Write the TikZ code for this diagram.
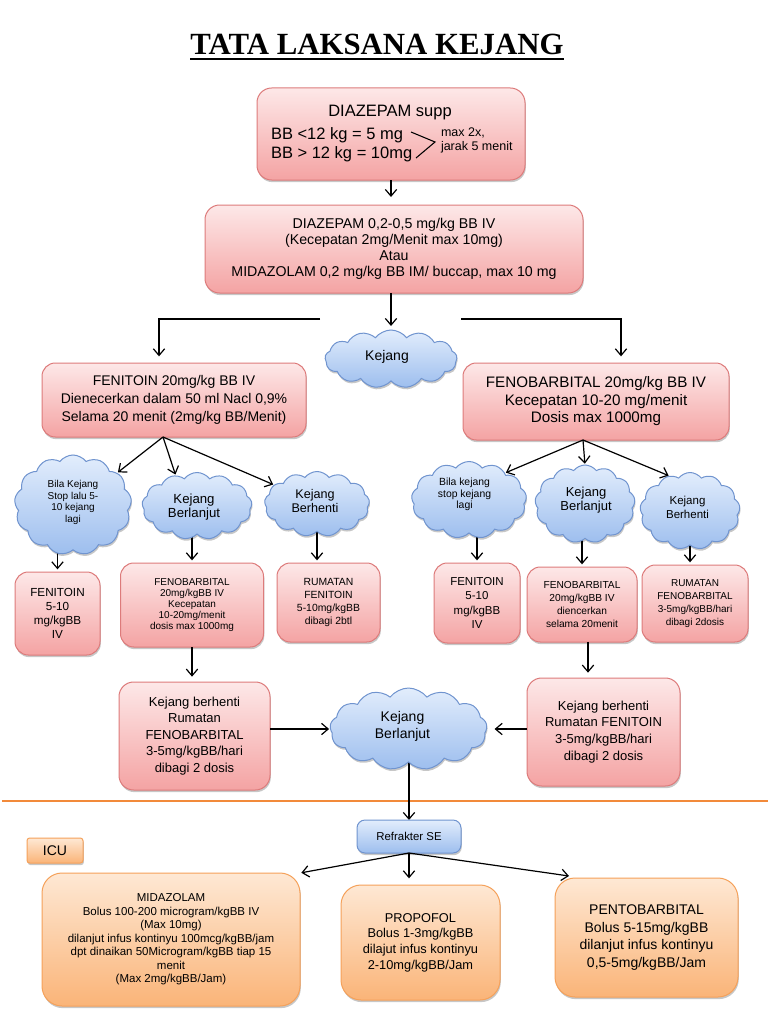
\documentclass[tikz,border=0pt]{standalone}
\usepackage{fontspec}
\setmainfont{Liberation Sans}
\newfontfamily\titlefont{Liberation Serif}
\usetikzlibrary{shapes.symbols,arrows.meta,shadows}
\newdimen\pxu \pxu=0.75pt
\newcommand\fsz[2]{\fontsize{#1\pxu}{#2\pxu}\selectfont}
\pgfdeclarelayer{bg}
\pgfsetlayers{bg,main}
\definecolor{redtop}{HTML}{FDE8E8}
\definecolor{redbot}{HTML}{F4A3A3}
\definecolor{redline}{HTML}{DD7B7B}
\definecolor{bluetop}{HTML}{E2EDFC}
\definecolor{bluebot}{HTML}{9DBEEE}
\definecolor{blueline}{HTML}{7094CF}
\definecolor{ortop}{HTML}{FEE8D4}
\definecolor{orbot}{HTML}{FAB478}
\definecolor{orline}{HTML}{F5A15A}
\definecolor{sepline}{HTML}{F28A3A}
\begin{document}
\begin{tikzpicture}[x=0.75pt,y=-0.75pt,
  every node/.style={inner sep=0pt,outer sep=0pt},
  sz/.style 2 args={minimum width=#1*0.75pt,minimum height=#2*0.75pt},
  shadowed/.style={drop shadow={shadow xshift=0.6pt,shadow yshift=-1.6pt,opacity=0.22,fill=black}},
  redbox/.style={draw=redline,line width=0.75pt,rounded corners=10pt,top color=redtop,bottom color=redbot,shadowed,align=center},
  bluebox/.style={draw=blueline,line width=0.75pt,rounded corners=6pt,top color=bluetop,bottom color=bluebot,shadowed,align=center},
  orbox/.style={draw=orline,line width=0.75pt,rounded corners=15pt,top color=ortop,bottom color=orbot,shadowed,align=center},
  cloudy/.style={cloud,cloud puffs=13,cloud puff arc=105,cloud ignores aspect,draw=blueline,line width=0.75pt,top color=bluetop,bottom color=bluebot,shadowed},
  lbl/.style={align=center},
  arr/.style={line width=0.9pt,-{Straight Barb[length=5pt,width=8.5pt,line width=0.9pt]},shorten >=2pt},
]
\begin{pgfonlayer}{bg}
\fill[white] (0,0) rectangle (768,1024);
\end{pgfonlayer}
\useasboundingbox (0,0) rectangle (768,1024);

% title
\node[anchor=base,font=\titlefont\bfseries\fsz{30.8}{34}] (title) at (377,55) {TATA LAKSANA KEJANG};
\draw[line width=1.5pt] ([yshift=-3pt]title.base west) -- ([yshift=-3pt]title.base east);

% box 1
\node[redbox,sz={268}{92},rounded corners=11pt] (b1) at (391,134) {};
\node[anchor=base,font=\fsz{16.5}{18}] (b1t) at (390,117) {DIAZEPAM supp};
\node[anchor=base west,font=\fsz{16.5}{18}] (b1a) at (271,139) {BB <12 kg = 5 mg};
\node[anchor=base west,font=\fsz{16.5}{18}] (b1b) at (271,158) {BB > 12 kg = 10mg};
\node[anchor=base west,font=\fsz{12.5}{13}] (b1c) at (441,137) {max 2x,};
\node[anchor=base west,font=\fsz{12.5}{13}] (b1d) at (441,150) {jarak 5 menit};
\coordinate (br1) at (411,132);
\coordinate (br2) at (435,142);
\coordinate (br3) at (416,158);
\draw[line width=0.8pt] (br1) -- (br2) -- (br3);

% box 2
\node[redbox,sz={378}{88},rounded corners=11pt,font=\fsz{14.2}{16}] (b2) at (394,249)
  {DIAZEPAM 0,2-0,5 mg/kg BB IV\\(Kecepatan 2mg/Menit max 10mg)\\Atau\\MIDAZOLAM 0,2 mg/kg BB IM/ buccap, max 10 mg};

% Kejang cloud
\node[cloudy,sz={132}{58}] (kj) at (391,359) {};
\node[font=\fsz{14}{16}] (kjt) at (387,357) {Kejang};

% second level boxes
\node[redbox,sz={264}{74},font=\fsz{14}{18}] (fen) at (174,400)
  {FENITOIN 20mg/kg BB IV\\Dienecerkan dalam 50 ml Nacl 0,9\%\\Selama 20 menit (2mg/kg BB/Menit)};
\node[redbox,sz={266}{77},font=\fsz{15.2}{17.5}] (fenob) at (596,401.5)
  {FENOBARBITAL 20mg/kg BB IV\\Kecepatan 10-20 mg/menit\\Dosis max 1000mg};

% left clouds
\node[cloudy,sz={117}{100}] (L1) at (73,505) {};
\node[lbl,font=\fsz{10}{11.7}] (L1t) at (73,502.5) {Bila Kejang\\Stop lalu 5-\\10 kejang\\lagi};
\node[cloudy,sz={110}{67}] (L2) at (197,506) {};
\node[lbl,font=\fsz{13.2}{14}] (L2t) at (194,507) {Kejang\\Berlanjut};
\node[cloudy,sz={105}{65}] (L3) at (317,504) {};
\node[lbl,font=\fsz{12.6}{14}] (L3t) at (315,501) {Kejang\\Berhenti};

% right clouds
\node[cloudy,sz={115}{77}] (R1) at (469,500) {};
\node[lbl,font=\fsz{10.4}{11.5}] (R1t) at (464.5,494.5) {Bila kejang\\stop kejang\\lagi};
\node[cloudy,sz={100}{78}] (R2) at (585,504) {};
\node[lbl,font=\fsz{13}{14}] (R2t) at (586,500) {Kejang\\Berlanjut};
\node[cloudy,sz={100}{77}] (R3) at (690,511) {};
\node[lbl,font=\fsz{11.5}{14}] (R3t) at (687.5,507) {Kejang\\Berhenti};

% third level boxes
\node[redbox,sz={85}{83},font=\fsz{11.7}{14}] (A1) at (57.5,613.5) {FENITOIN\\5-10\\mg/kgBB\\IV};
\node[redbox,sz={143}{84},font=\fsz{10}{11.2}] (A2) at (192,605) {FENOBARBITAL\\20mg/kgBB IV\\Kecepatan\\10-20mg/menit\\dosis max 1000mg};
\node[redbox,sz={103}{79},font=\fsz{10.4}{13.3}] (A3) at (328.5,602.5) {RUMATAN\\FENITOIN\\5-10mg/kgBB\\dibagi 2btl};
\node[redbox,sz={86}{80},font=\fsz{11.5}{14.3}] (B1) at (477,603) {FENITOIN\\5-10\\mg/kgBB\\IV};
\node[redbox,sz={110}{75},font=\fsz{10.2}{13}] (B2) at (582,604.5) {FENOBARBITAL\\20mg/kgBB IV\\diencerkan\\selama 20menit};
\node[redbox,sz={106}{77},font=\fsz{10}{12.8}] (B3) at (695,603.5) {RUMATAN\\FENOBARBITAL\\3-5mg/kgBB/hari\\dibagi 2dosis};

% fourth level
\node[redbox,sz={151}{108},rounded corners=11pt,font=\fsz{13}{16.5}] (C1) at (194.5,736) {Kejang berhenti\\Rumatan\\FENOBARBITAL\\3-5mg/kgBB/hari\\dibagi 2 dosis};
\node[cloudy,sz={157}{82}] (kb) at (408.5,729) {};
\node[lbl,font=\fsz{14}{17}] (kbt) at (402.5,726.5) {Kejang\\Berlanjut};
\node[redbox,sz={153}{108},rounded corners=11pt,font=\fsz{13}{16.8}] (C2) at (603.5,732) {Kejang berhenti\\Rumatan FENITOIN\\3-5mg/kgBB/hari\\dibagi 2 dosis};

% ICU part
\node[bluebox,sz={104}{33},font=\fsz{11.4}{13}] (R) at (409,836.5) {Refrakter SE};
\node[orbox,sz={56}{25},rounded corners=2pt,font=\fsz{14}{16}] (icu) at (55,850.5) {ICU};
\node[orbox,sz={258}{133},font=\fsz{11.5}{13.5}] (D1) at (171,939.5)
  {MIDAZOLAM\\Bolus 100-200 microgram/kgBB IV\\(Max 10mg)\\dilanjut infus kontinyu 100mcg/kgBB/jam\\dpt dinaikan 50Microgram/kgBB tiap 15\\menit\\(Max 2mg/kgBB/Jam)};
\node[orbox,sz={159}{115},font=\fsz{12.8}{15.7}] (D2) at (420.5,942.5)
  {PROPOFOL\\Bolus 1-3mg/kgBB\\dilajut infus kontinyu\\2-10mg/kgBB/Jam};
\node[orbox,sz={183}{119},font=\fsz{14}{17.7}] (D3) at (646.5,937.5)
  {PENTOBARBITAL\\Bolus 5-15mg/kgBB\\dilanjut infus kontinyu\\0,5-5mg/kgBB/Jam};

% connectors on background
\begin{pgfonlayer}{bg}
\draw[arr] (A1.north |- L1.center) -- (A1.north);
\draw[arr] (A2.north |- L2.center) -- (A2.north);
\draw[arr] (L3.center) -- (L3.center |- A3.north);
\draw[arr] (B1.north |- R1.center) -- (B1.north);
\draw[arr] (B2.north |- R2.center) -- (B2.north);
\draw[arr] (R3.center) -- (R3.center |- B3.north);
\draw[sepline,line width=1.8pt] (2,801) -- (768,801);
\draw[arr,shorten >=0pt] (R.north |- kb.center) -- (R.north);
\end{pgfonlayer}

% main connectors
\draw[arr,shorten >=6pt] (b1.south) -- (b1.south |- b2.north);
\draw[arr,shorten >=3pt] (b2.south -| kj.north) -- (kj.north);
\coordinate (hl) at (320,319);
\coordinate (hlx) at (159,319);
\coordinate (hr) at (461,319);
\coordinate (hrx) at (621,319);
\draw[arr,shorten >=5pt] (hl) -- (hlx) -- (hlx |- fen.north);
\draw[arr,shorten >=5pt] (hr) -- (hrx) -- (hrx |- fenob.north);

\coordinate (fsrc) at (163,437);
\draw[arr,shorten >=1pt] (fsrc) -- (L1.36);
\draw[arr,shorten >=1pt] (fsrc) -- (L2.125);
\draw[arr,shorten >=1pt] (fsrc) -- (L3.156);
\coordinate (fbsrc) at (583,440);
\draw[arr,shorten >=1pt] (fbsrc) -- (R1.37);
\draw[arr,shorten >=1pt] (fbsrc) -- (R2.90);
\draw[arr,shorten >=1pt] (fbsrc) -- (R3.120);

\draw[arr,shorten >=4pt] (A2.south) -- (A2.south |- C1.north);
\coordinate (c2x) at (588,642);
\draw[arr,shorten >=4pt] (c2x) -- (c2x |- C2.north);
\draw[arr,shorten >=1pt] (C1.east |- kb.west) -- (kb.west);
\draw[arr,shorten >=6pt] (C2.west |- kb.east) -- (kb.east);

\coordinate (d3in) at (569,876);
\draw[arr,shorten >=1pt] (R.south) -- (D1.north east);
\draw[arr,shorten >=5pt] (R.south) -- (R.south |- D2.north);
\draw[arr,shorten >=0pt] (R.south) -- (d3in);
\end{tikzpicture}
\end{document}
